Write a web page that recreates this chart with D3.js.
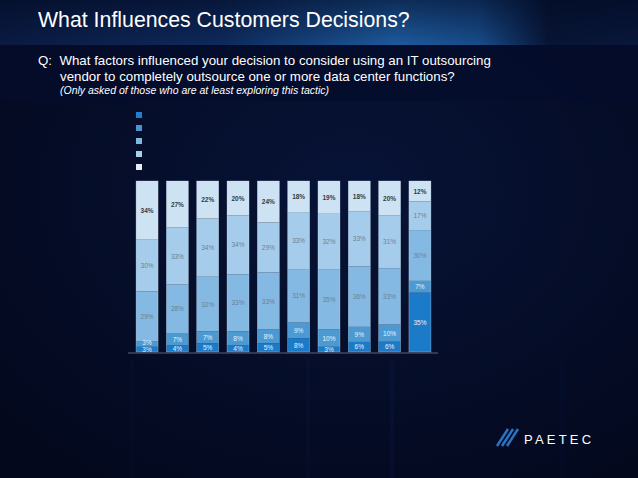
<!DOCTYPE html>
<html>
<head>
<meta charset="utf-8">
<script src="https://cdn.jsdelivr.net/npm/d3@7"></script>
<style>
  html, body { margin: 0; padding: 0; background: #040a1f; }
  svg { display: block; font-family: Arial, "Liberation Sans", sans-serif; }
</style>
</head>
<body>
<svg id="chart" width="638" height="478"></svg>
<script>
// ---- data (bottom segment first) ----
const categories = ["1", "2", "3", "4", "5", "6", "7", "8", "9", "10"];
const seriesKeys = ["s1", "s2", "s3", "s4", "s5"];
const s1 = [3, 4, 5, 4, 5, 8, 3, 6, 6, 35];
const s2 = [3, 7, 7, 8, 8, 9, 10, 9, 10, 7];
const s3 = [29, 28, 32, 33, 33, 31, 35, 36, 33, 30];
const s4 = [30, 33, 34, 34, 29, 33, 32, 33, 31, 17];
const s5 = [34, 27, 22, 20, 24, 18, 19, 18, 20, 12];
const seriesColors = ["#1c7bc9", "#4d9ad3", "#84b9e3", "#a5cdeb", "#cde3f3"];
const legendColors = ["#2080cc", "#4a95d0", "#7db7e2", "#a9cfec", "#e6eff8"];
const labelColors = ["#e8f1fa", "#e8f1fa", "#6f7f8f", "#6f7f8f", "#333b44"];

const title = "What Influences Customers Decisions?";
const qLine1 = "Q:  What factors influenced your decision to consider using an IT outsourcing";
const qLine2 = "vendor to completely outsource one or more data center functions?";
const qLine3 = "(Only asked of those who are at least exploring this tactic)";

const rows = categories.map((c, i) => ({ cat: c, s1: s1[i], s2: s2[i], s3: s3[i], s4: s4[i], s5: s5[i] }));

const svg = d3.select("#chart");
const W = 638, H = 478;

// ---- background ----
const defs = svg.append("defs");
const bgTop = defs.append("linearGradient").attr("id", "bgTop").attr("x1", 0).attr("x2", 1).attr("y1", 0).attr("y2", 0);
bgTop.append("stop").attr("offset", "0%").attr("stop-color", "#0a1a40");
bgTop.append("stop").attr("offset", "35%").attr("stop-color", "#0e2a5c");
bgTop.append("stop").attr("offset", "62%").attr("stop-color", "#1d5a9c");
bgTop.append("stop").attr("offset", "75%").attr("stop-color", "#184c8a");
bgTop.append("stop").attr("offset", "86%").attr("stop-color", "#071535");
bgTop.append("stop").attr("offset", "100%").attr("stop-color", "#08173a");

const bgTopV = defs.append("linearGradient").attr("id", "bgTopV").attr("x1", 0).attr("x2", 0).attr("y1", 0).attr("y2", 1);
bgTopV.append("stop").attr("offset", "0%").attr("stop-color", "#000820").attr("stop-opacity", 0.55);
bgTopV.append("stop").attr("offset", "100%").attr("stop-color", "#000820").attr("stop-opacity", 0);

const bgMain = defs.append("radialGradient").attr("id", "bgMain").attr("cx", "55%").attr("cy", "40%").attr("r", "75%");
bgMain.append("stop").attr("offset", "0%").attr("stop-color", "#071337");
bgMain.append("stop").attr("offset", "100%").attr("stop-color", "#03081c");

svg.append("rect").attr("width", W).attr("height", H).attr("fill", "url(#bgMain)");
svg.append("rect").attr("width", W).attr("height", 45).attr("fill", "url(#bgTop)");
svg.append("rect").attr("width", W).attr("height", 45).attr("fill", "url(#bgTopV)");
svg.append("rect").attr("y", 45).attr("width", W).attr("height", 56).attr("fill", "#050d2c").attr("opacity", 0.85);

// faint vertical streaks in lower area
[[390, 0.10], [306, 0.06], [130, 0.05], [560, 0.05]].forEach(([x, o]) => {
  svg.append("rect").attr("x", x).attr("y", 360).attr("width", 4).attr("height", 118)
    .attr("fill", "#1a3a8a").attr("opacity", o);
});

// ---- titles ----
svg.append("text").attr("x", 38).attr("y", 27).attr("fill", "#ffffff")
  .attr("font-size", 21.3).text(title);
svg.append("text").attr("x", 38).attr("y", 65).attr("fill", "#ffffff")
  .attr("font-size", 13.3).attr("xml:space", "preserve").style("white-space", "pre").text(qLine1);
svg.append("text").attr("x", 60).attr("y", 81).attr("fill", "#ffffff")
  .attr("font-size", 13.3).text(qLine2);
svg.append("text").attr("x", 60).attr("y", 94).attr("fill", "#ffffff")
  .attr("font-size", 10.5).attr("font-style", "italic").text(qLine3);

// ---- scales ----
const x = d3.scaleBand().domain(categories).range([130, 437]).paddingInner(0.274).paddingOuter(0.2);
const y = d3.scaleLinear().domain([0, 1]).range([352, 181]);

const stack = d3.stack().keys(seriesKeys).offset(d3.stackOffsetExpand);
const stacked = stack(rows);

const g = svg.append("g");
stacked.forEach((layer, li) => {
  const lg = g.append("g");
  lg.selectAll("rect").data(layer).join("rect")
    .attr("x", d => x(d.data.cat))
    .attr("y", d => y(d[1]))
    .attr("width", x.bandwidth())
    .attr("height", d => y(d[0]) - y(d[1]))
    .attr("fill", seriesColors[li]);
});

// bar outline
g.selectAll("rect.outline").data(rows).join("rect").attr("class", "outline")
  .attr("x", d => x(d.cat)).attr("y", y(1)).attr("width", x.bandwidth()).attr("height", y(0) - y(1))
  .attr("fill", "none").attr("stroke", "#dce8f4").attr("stroke-opacity", 0.5).attr("stroke-width", 0.6);

// labels: baseline per segment, pushed apart where segments are thin
const labelY = stacked.map(layer => layer.map(d => (y(d[0]) + y(d[1])) / 2 + 2.5));
for (let ci = 0; ci < categories.length; ci++) {
  labelY[0][ci] = Math.min(labelY[0][ci], 351.5);
  for (let li = 1; li < stacked.length; li++) {
    if (labelY[li - 1][ci] - labelY[li][ci] < 7) labelY[li][ci] = labelY[li - 1][ci] - 7;
  }
}
stacked.forEach((layer, li) => {
  g.append("g").selectAll("text").data(layer).join("text")
    .attr("x", d => x(d.data.cat) + x.bandwidth() / 2)
    .attr("y", (d, i) => labelY[li][i])
    .attr("text-anchor", "middle")
    .attr("font-size", 6.5)
    .attr("font-weight", li === 4 ? "bold" : "normal")
    .attr("fill", labelColors[li])
    .text(d => d.data[layer.key] + "%");
});

// baseline
svg.append("line").attr("x1", x.range()[0] - 2).attr("x2", x.range()[1] + 1)
  .attr("y1", 353).attr("y2", 353).attr("stroke", "#5a6478").attr("stroke-width", 1);

// legend (no text)
const legend = svg.append("g");
legendColors.forEach((c, i) => {
  legend.append("rect").attr("x", 136).attr("y", 112 + i * 13).attr("width", 6).attr("height", 6).attr("fill", c);
});

// ---- logo ----
const logo = svg.append("g");
[0, 5, 10].forEach(dx => {
  logo.append("line").attr("x1", 497 + dx).attr("y1", 446).attr("x2", 508 + dx).attr("y2", 429)
    .attr("stroke", "#2c72c4").attr("stroke-width", 2.5);
});
logo.append("text").attr("x", 524).attr("y", 444).attr("fill", "#ffffff")
  .attr("font-size", 13).attr("letter-spacing", 3.2).text("PAETEC");
</script>
</body>
</html>
